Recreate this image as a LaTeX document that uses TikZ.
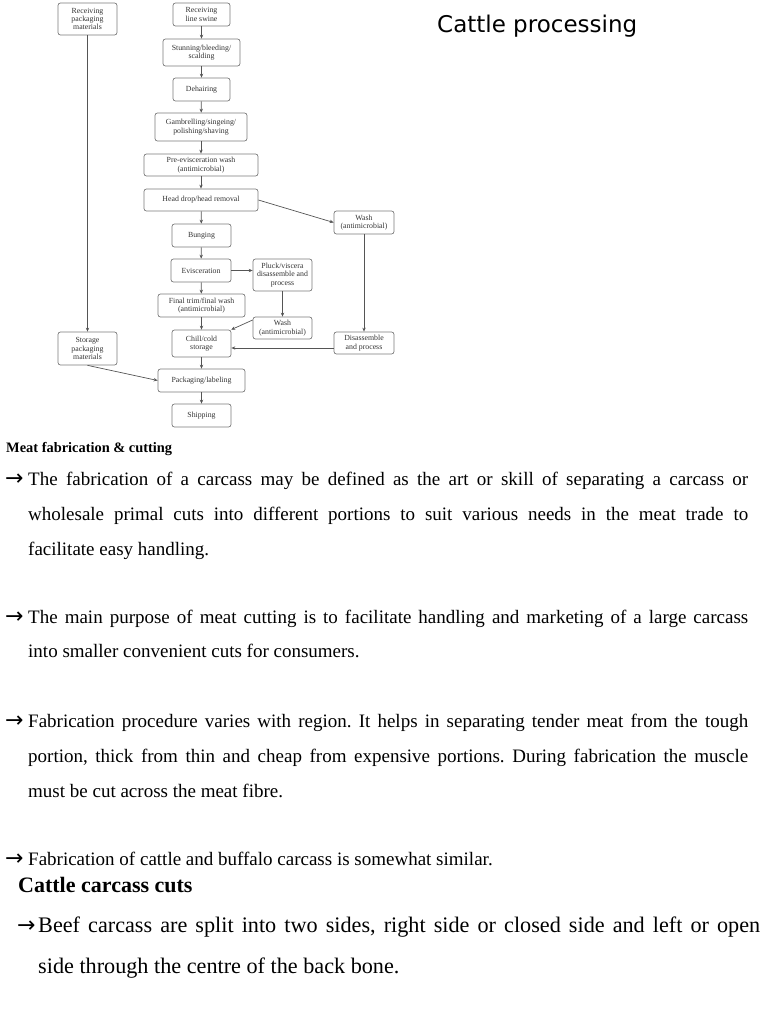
\documentclass[tikz,border=0pt]{standalone}
\usepackage{fontspec}
\setmainfont{Liberation Serif}
\newfontfamily\sansfont{DejaVu Sans}
\usetikzlibrary{arrows.meta,positioning}
\definecolor{flowline}{HTML}{555555}
\definecolor{boxline}{HTML}{7A7A7A}
\definecolor{boxtext}{HTML}{333333}
\newcommand{\fitline}[2][720pt]{\makebox[#1][s]{#2}}
\frenchspacing

\begin{document}
\begin{tikzpicture}[x=1pt, y=-1pt,
  stage/.style={draw=boxline, line width=0.7pt, rounded corners=2.5pt, align=center, inner sep=0pt, font=\fontsize{7.8}{8.4}\selectfont, text=boxtext},
  flow/.style={-{Stealth[length=4pt, width=3.4pt]}, line width=0.7pt, color=flowline},
  bodytext/.style={anchor=base west, inner sep=0pt, font=\fontsize{19}{19}\selectfont},
  pointer/.style={anchor=base west, inner sep=0pt, font=\sansfont\fontsize{22}{22}\selectfont}
]
\useasboundingbox (0,0) rectangle (768,1024);

% flow chart
\node[stage, minimum width=59pt, minimum height=32pt] (rpk) at (87.5,19) {Receiving\\packaging\\materials};
\node[stage, minimum width=57pt, minimum height=23pt] (rsw) at (201.5,14.5) {Receiving\\line swine};
\node[stage, minimum width=77pt, minimum height=27pt] (stun) at (201.5,52.5) {Stunning/bleeding/\\scalding};
\node[stage, minimum width=57pt, minimum height=23pt] (dehr) at (201.5,89.5) {Dehairing};
\node[stage, minimum width=92pt, minimum height=28pt] (gamb) at (201,127) {Gambrelling/singeing/\\polishing/shaving};
\node[stage, minimum width=114pt, minimum height=22pt] (prew) at (201,165) {Pre-evisceration wash\\(antimicrobial)};
\node[stage, minimum width=114pt, minimum height=22pt] (head) at (201,200) {Head drop/head removal};
\node[stage, minimum width=59pt, minimum height=23pt] (bung) at (201.5,235.5) {Bunging};
\node[stage, minimum width=60pt, minimum height=23pt] (evis) at (201,270.5) {Evisceration};
\node[stage, minimum width=59pt, minimum height=32pt] (plk) at (282.5,275) {Pluck/viscera\\disassemble and\\process};
\node[stage, minimum width=60pt, minimum height=23pt] (wshr) at (364,222.5) {Wash\\(antimicrobial)};
\node[stage, minimum width=87pt, minimum height=23pt] (trim) at (201.5,305.5) {Final trim/final wash\\(antimicrobial)};
\node[stage, minimum width=59pt, minimum height=22pt] (wshm) at (282.5,328) {Wash\\(antimicrobial)};
\node[stage, minimum width=59pt, minimum height=27pt] (chil) at (201.5,343.5) {Chill/cold\\storage};
\node[stage, minimum width=59pt, minimum height=33pt] (spk) at (87.5,348.5) {Storage\\packaging\\materials};
\node[stage, minimum width=60pt, minimum height=22pt] (dis) at (364,343) {Disassemble\\and process};
\node[stage, minimum width=87pt, minimum height=23pt] (pack) at (201.5,380.5) {Packaging/labeling};
\node[stage, minimum width=59pt, minimum height=23pt] (ship) at (201.5,415.5) {Shipping};

\draw[flow] (rpk) -- (spk);
\draw[flow] (rsw) -- (stun);
\draw[flow] (stun) -- (dehr);
\draw[flow] (dehr) -- (gamb);
\draw[flow] (gamb) -- (prew);
\draw[flow] (prew) -- (head);
\draw[flow] (head) -- (bung);
\draw[flow] (bung) -- (evis);
\draw[flow] (evis) -- (trim);
\draw[flow] (trim) -- (chil);
\draw[flow] (chil) -- (pack);
\draw[flow] (pack) -- (ship);
\draw[flow] (head.east) -- (wshr.west);
\draw[flow] (evis.east) -- (evis.east -| plk.west);
\draw[flow] (plk.south -| wshm.north) -- (wshm.north);
\draw[flow] (wshm.165) -- (chil.25);
\draw[flow] (wshr) -- (dis);
\draw[flow] ([yshift=-5pt]dis.west) -- ([yshift=-5pt]dis.west -| chil.east);
\draw[flow] (spk.south) -- (pack.west);

\node[anchor=base west, inner sep=0pt, font=\sansfont\fontsize{23}{23}\selectfont] (ttl) at (437,33) {Cattle processing};

% text below
\node[anchor=base west, inner sep=0pt, font=\bfseries\fontsize{14.4}{14.4}\selectfont] (hd1) at (6,452) {Meat fabrication \& cutting};

\node[pointer] (b1) at (5,485) {→};
\node[bodytext] (l1a) at (28,485) {\fitline{The fabrication of a carcass may be defined as the art or skill of separating a carcass or}};
\node[bodytext] (l1b) at (28,520) {\fitline{wholesale primal cuts into different portions to suit various needs in the meat trade to}};
\node[bodytext] (l1c) at (28,555) {facilitate easy handling.};

\node[pointer] (b2) at (5,623) {→};
\node[bodytext] (l2a) at (28,623) {\fitline{The main purpose of meat cutting is to facilitate handling and marketing of a large carcass}};
\node[bodytext] (l2b) at (28,657) {into smaller convenient cuts for consumers.};

\node[pointer] (b3) at (5,727) {→};
\node[bodytext] (l3a) at (28,727) {\fitline{Fabrication procedure varies with region. It helps in separating tender meat from the tough}};
\node[bodytext] (l3b) at (28,762) {\fitline{portion, thick from thin and cheap from expensive portions. During fabrication the muscle}};
\node[bodytext] (l3c) at (28,797) {must be cut across the meat fibre.};

\node[pointer] (b4) at (5,865) {→};
\node[bodytext] (l4a) at (28,865) {Fabrication of cattle and buffalo carcass is somewhat similar.};

\node[anchor=base west, inner sep=0pt, font=\bfseries\fontsize{22}{22}\selectfont] (hd2) at (18,892) {Cattle carcass cuts};

\node[pointer] (b5) at (17,932) {→};
\node[bodytext, font=\fontsize{22.2}{22.2}\selectfont] (l5a) at (38,932) {\fitline[722pt]{Beef carcass are split into two sides, right side or closed side and left or open}};
\node[bodytext, font=\fontsize{22.2}{22.2}\selectfont] (l5b) at (38,973) {side through the centre of the back bone.};
\end{tikzpicture}
\end{document}
